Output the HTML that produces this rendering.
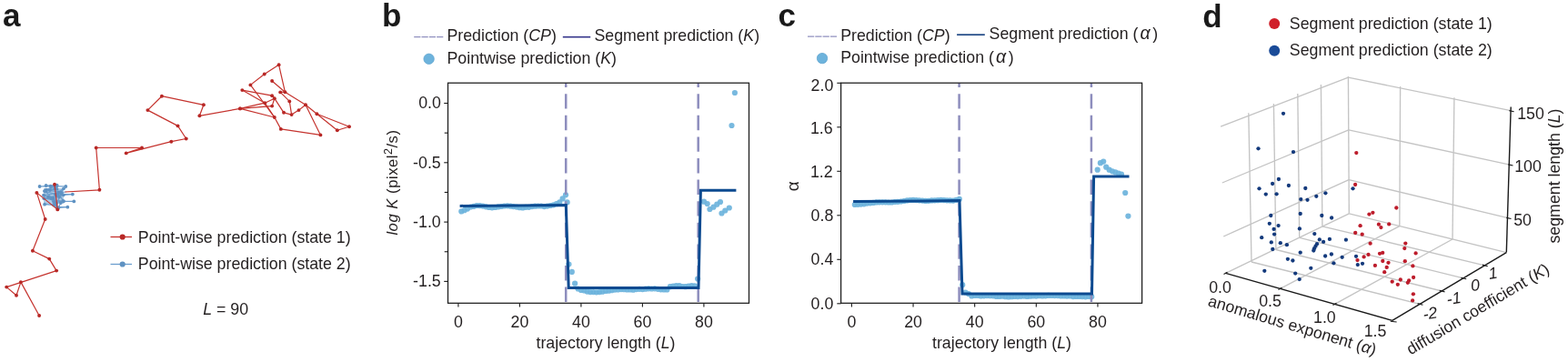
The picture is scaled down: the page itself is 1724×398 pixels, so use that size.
<!DOCTYPE html>
<html lang="en"><head><meta charset="utf-8"><title>Figure</title>
<style>
html,body{margin:0;padding:0;background:#fff;}
body{width:1724px;height:398px;overflow:hidden;}
svg{display:block;font-family:"Liberation Sans",Arial,Helvetica,sans-serif;}
text{white-space:pre;}
</style></head><body>
<svg width="1724" height="398" viewBox="0 0 1724 398">
<rect x="0" y="0" width="1724" height="398" fill="#ffffff"/>
<text x="3.00" y="29.10" font-size="35" text-anchor="start" font-weight="bold" fill="#1a1a1a">a</text>
<text x="420.00" y="29.20" font-size="35" text-anchor="start" font-weight="bold" fill="#1a1a1a">b</text>
<text x="855.40" y="29.00" font-size="35" text-anchor="start" font-weight="bold" fill="#1a1a1a">c</text>
<text x="1322.30" y="29.50" font-size="35" text-anchor="start" font-weight="bold" fill="#1a1a1a">d</text>
<rect x="48" y="207" width="22" height="17" fill="#6b9ece" opacity="0.55"/>
<polyline points="60.0,202.8 54.9,209.1 62.5,207.8 55.6,204.7 43.6,205.0 62.6,203.6 50.6,204.0 60.6,204.5 50.3,210.4 61.9,223.1 60.8,213.4 70.0,207.3 67.2,211.6 50.8,208.6 60.3,204.6 72.3,205.0 62.3,204.5 60.1,207.6 48.9,210.1 63.1,214.0 67.8,213.5 79.8,213.6 69.8,214.3 53.1,216.6 59.6,221.8 64.3,211.5 69.3,221.0 81.3,221.4 70.0,221.3 48.4,218.2 65.1,216.5 62.3,227.7 74.3,227.7 64.3,228.5 66.8,223.0 58.4,218.1 61.1,225.0 49.1,224.7 59.1,225.4 56.4,218.2 48.0,214.6 72.0,211.0" fill="none" stroke="#6b9ece" stroke-width="1.25" stroke-linejoin="round" stroke-linecap="round"/>
<circle cx="54.9" cy="209.1" r="1.9" fill="#5f92c2"/>
<circle cx="62.5" cy="207.8" r="1.9" fill="#5f92c2"/>
<circle cx="55.6" cy="204.7" r="1.9" fill="#5f92c2"/>
<circle cx="43.6" cy="205.0" r="1.9" fill="#5f92c2"/>
<circle cx="62.6" cy="203.6" r="1.9" fill="#5f92c2"/>
<circle cx="50.6" cy="204.0" r="1.9" fill="#5f92c2"/>
<circle cx="60.6" cy="204.5" r="1.9" fill="#5f92c2"/>
<circle cx="50.3" cy="210.4" r="1.9" fill="#5f92c2"/>
<circle cx="61.9" cy="223.1" r="1.9" fill="#5f92c2"/>
<circle cx="60.8" cy="213.4" r="1.9" fill="#5f92c2"/>
<circle cx="70.0" cy="207.3" r="1.9" fill="#5f92c2"/>
<circle cx="67.2" cy="211.6" r="1.9" fill="#5f92c2"/>
<circle cx="50.8" cy="208.6" r="1.9" fill="#5f92c2"/>
<circle cx="60.3" cy="204.6" r="1.9" fill="#5f92c2"/>
<circle cx="72.3" cy="205.0" r="1.9" fill="#5f92c2"/>
<circle cx="62.3" cy="204.5" r="1.9" fill="#5f92c2"/>
<circle cx="60.1" cy="207.6" r="1.9" fill="#5f92c2"/>
<circle cx="48.9" cy="210.1" r="1.9" fill="#5f92c2"/>
<circle cx="63.1" cy="214.0" r="1.9" fill="#5f92c2"/>
<circle cx="67.8" cy="213.5" r="1.9" fill="#5f92c2"/>
<circle cx="79.8" cy="213.6" r="1.9" fill="#5f92c2"/>
<circle cx="69.8" cy="214.3" r="1.9" fill="#5f92c2"/>
<circle cx="53.1" cy="216.6" r="1.9" fill="#5f92c2"/>
<circle cx="59.6" cy="221.8" r="1.9" fill="#5f92c2"/>
<circle cx="64.3" cy="211.5" r="1.9" fill="#5f92c2"/>
<circle cx="69.3" cy="221.0" r="1.9" fill="#5f92c2"/>
<circle cx="81.3" cy="221.4" r="1.9" fill="#5f92c2"/>
<circle cx="70.0" cy="221.3" r="1.9" fill="#5f92c2"/>
<circle cx="48.4" cy="218.2" r="1.9" fill="#5f92c2"/>
<circle cx="65.1" cy="216.5" r="1.9" fill="#5f92c2"/>
<circle cx="62.3" cy="227.7" r="1.9" fill="#5f92c2"/>
<circle cx="74.3" cy="227.7" r="1.9" fill="#5f92c2"/>
<circle cx="64.3" cy="228.5" r="1.9" fill="#5f92c2"/>
<circle cx="66.8" cy="223.0" r="1.9" fill="#5f92c2"/>
<circle cx="58.4" cy="218.1" r="1.9" fill="#5f92c2"/>
<circle cx="61.1" cy="225.0" r="1.9" fill="#5f92c2"/>
<circle cx="49.1" cy="224.7" r="1.9" fill="#5f92c2"/>
<circle cx="59.1" cy="225.4" r="1.9" fill="#5f92c2"/>
<circle cx="56.4" cy="218.2" r="1.9" fill="#5f92c2"/>
<circle cx="48.0" cy="214.6" r="1.9" fill="#5f92c2"/>
<polyline points="43.1,347.0 22.9,310.1 18.0,324.8 7.2,315.6 62.1,297.6 54.2,284.6 35.9,275.8 49.7,241.0 40.4,211.9 63.3,230.4 60.0,202.8" fill="none" stroke="#c5332e" stroke-width="1.2" stroke-linejoin="round" stroke-linecap="round"/>
<polyline points="72.0,211.0 109.4,208.8 105.7,162.5 156.0,162.5 138.7,168.4 188.3,155.7 204.7,152.5 195.5,138.4 162.4,121.1 177.9,105.7 223.9,115.3 219.4,127.3 264.0,119.4" fill="none" stroke="#c5332e" stroke-width="1.2" stroke-linejoin="round" stroke-linecap="round"/>
<polyline points="264.0,119.4 291.2,113.2 301.8,108.2 299.1,105.2" fill="none" stroke="#c5332e" stroke-width="1.2" stroke-linejoin="round" stroke-linecap="round"/>
<polyline points="264.0,119.4 299.1,116.6" fill="none" stroke="#c5332e" stroke-width="1.2" stroke-linejoin="round" stroke-linecap="round"/>
<polyline points="264.0,119.4 301.8,129.0" fill="none" stroke="#c5332e" stroke-width="1.2" stroke-linejoin="round" stroke-linecap="round"/>
<polyline points="266.3,99.1 299.1,105.2" fill="none" stroke="#c5332e" stroke-width="1.2" stroke-linejoin="round" stroke-linecap="round"/>
<polyline points="275.4,93.4 301.8,129.0" fill="none" stroke="#c5332e" stroke-width="1.2" stroke-linejoin="round" stroke-linecap="round"/>
<polyline points="275.4,93.4 290.7,81.5 306.6,71.3 313.4,101.2" fill="none" stroke="#c5332e" stroke-width="1.2" stroke-linejoin="round" stroke-linecap="round"/>
<polyline points="299.1,89.0 313.4,101.2 336.0,115.2 348.4,125.3 384.0,139.2 370.8,143.3" fill="none" stroke="#c5332e" stroke-width="1.2" stroke-linejoin="round" stroke-linecap="round"/>
<polyline points="370.8,143.3 348.4,125.3" fill="none" stroke="#c5332e" stroke-width="1.2" stroke-linejoin="round" stroke-linecap="round"/>
<polyline points="301.8,108.2 312.0,123.8 320.6,126.1 328.5,121.1 336.0,115.2" fill="none" stroke="#c5332e" stroke-width="1.2" stroke-linejoin="round" stroke-linecap="round"/>
<polyline points="318.3,111.4 320.6,126.1" fill="none" stroke="#c5332e" stroke-width="1.2" stroke-linejoin="round" stroke-linecap="round"/>
<polyline points="336.0,115.2 352.4,148.4 308.8,141.9 301.8,129.0" fill="none" stroke="#c5332e" stroke-width="1.2" stroke-linejoin="round" stroke-linecap="round"/>
<polyline points="266.3,99.1 291.2,113.2" fill="none" stroke="#c5332e" stroke-width="1.2" stroke-linejoin="round" stroke-linecap="round"/>
<polyline points="308.2,101.4 313.4,101.2" fill="none" stroke="#c5332e" stroke-width="1.2" stroke-linejoin="round" stroke-linecap="round"/>
<polyline points="308.2,101.4 318.3,111.4" fill="none" stroke="#c5332e" stroke-width="1.2" stroke-linejoin="round" stroke-linecap="round"/>
<polyline points="299.1,116.6 301.8,108.2" fill="none" stroke="#c5332e" stroke-width="1.2" stroke-linejoin="round" stroke-linecap="round"/>
<polyline points="291.2,113.2 301.8,129.0" fill="none" stroke="#c5332e" stroke-width="1.2" stroke-linejoin="round" stroke-linecap="round"/>
<circle cx="43.1" cy="347.0" r="1.95" fill="#b82826"/>
<circle cx="22.9" cy="310.1" r="1.95" fill="#b82826"/>
<circle cx="18.0" cy="324.8" r="1.95" fill="#b82826"/>
<circle cx="7.2" cy="315.6" r="1.95" fill="#b82826"/>
<circle cx="62.1" cy="297.6" r="1.95" fill="#b82826"/>
<circle cx="54.2" cy="284.6" r="1.95" fill="#b82826"/>
<circle cx="35.9" cy="275.8" r="1.95" fill="#b82826"/>
<circle cx="49.7" cy="241.0" r="1.95" fill="#b82826"/>
<circle cx="40.4" cy="211.9" r="1.95" fill="#b82826"/>
<circle cx="63.3" cy="230.4" r="1.95" fill="#b82826"/>
<circle cx="60.0" cy="202.8" r="1.95" fill="#b82826"/>
<circle cx="109.4" cy="208.8" r="1.95" fill="#b82826"/>
<circle cx="105.7" cy="162.5" r="1.95" fill="#b82826"/>
<circle cx="156.0" cy="162.5" r="1.95" fill="#b82826"/>
<circle cx="138.7" cy="168.4" r="1.95" fill="#b82826"/>
<circle cx="188.3" cy="155.7" r="1.95" fill="#b82826"/>
<circle cx="204.7" cy="152.5" r="1.95" fill="#b82826"/>
<circle cx="195.5" cy="138.4" r="1.95" fill="#b82826"/>
<circle cx="162.4" cy="121.1" r="1.95" fill="#b82826"/>
<circle cx="177.9" cy="105.7" r="1.95" fill="#b82826"/>
<circle cx="223.9" cy="115.3" r="1.95" fill="#b82826"/>
<circle cx="219.4" cy="127.3" r="1.95" fill="#b82826"/>
<circle cx="264.0" cy="119.4" r="1.95" fill="#b82826"/>
<circle cx="264.0" cy="119.4" r="1.95" fill="#b82826"/>
<circle cx="291.2" cy="113.2" r="1.95" fill="#b82826"/>
<circle cx="299.1" cy="105.2" r="1.95" fill="#b82826"/>
<circle cx="266.3" cy="99.1" r="1.95" fill="#b82826"/>
<circle cx="301.8" cy="108.2" r="1.95" fill="#b82826"/>
<circle cx="299.1" cy="116.6" r="1.95" fill="#b82826"/>
<circle cx="275.4" cy="93.4" r="1.95" fill="#b82826"/>
<circle cx="290.7" cy="81.5" r="1.95" fill="#b82826"/>
<circle cx="306.6" cy="71.3" r="1.95" fill="#b82826"/>
<circle cx="313.4" cy="101.2" r="1.95" fill="#b82826"/>
<circle cx="308.2" cy="101.4" r="1.95" fill="#b82826"/>
<circle cx="299.1" cy="89.0" r="1.95" fill="#b82826"/>
<circle cx="318.3" cy="111.4" r="1.95" fill="#b82826"/>
<circle cx="312.0" cy="123.8" r="1.95" fill="#b82826"/>
<circle cx="320.6" cy="126.1" r="1.95" fill="#b82826"/>
<circle cx="328.5" cy="121.1" r="1.95" fill="#b82826"/>
<circle cx="336.0" cy="115.2" r="1.95" fill="#b82826"/>
<circle cx="348.4" cy="125.3" r="1.95" fill="#b82826"/>
<circle cx="384.0" cy="139.2" r="1.95" fill="#b82826"/>
<circle cx="370.8" cy="143.3" r="1.95" fill="#b82826"/>
<circle cx="352.4" cy="148.4" r="1.95" fill="#b82826"/>
<circle cx="308.8" cy="141.9" r="1.95" fill="#b82826"/>
<circle cx="301.8" cy="129.0" r="1.95" fill="#b82826"/>
<line x1="121.5" y1="260.5" x2="145" y2="260.5" stroke="#c5332e" stroke-width="1.3"/>
<circle cx="134.7" cy="260.5" r="3.1" fill="#b82826"/>
<line x1="121.5" y1="290.5" x2="145" y2="290.5" stroke="#6b9ece" stroke-width="1.3"/>
<circle cx="134.7" cy="290.5" r="3.1" fill="#5f92c2"/>
<text x="151.80" y="266.80" font-size="17.75" text-anchor="start" font-weight="normal" fill="#231f20">Point-wise prediction (state 1)</text>
<text x="151.80" y="296.10" font-size="17.75" text-anchor="start" font-weight="normal" fill="#231f20">Point-wise prediction (state 2)</text>
<text x="223.20" y="345.70" font-size="17.75" text-anchor="start" font-weight="normal" fill="#231f20"><tspan font-style="italic">L</tspan> = 90</text>
<g fill="#6db3dc" fill-opacity="0.92">
<circle cx="507.3" cy="232.4" r="3.1"/>
<circle cx="510.6" cy="231.2" r="3.1"/>
<circle cx="514.0" cy="229.6" r="3.1"/>
<circle cx="517.4" cy="227.5" r="3.1"/>
<circle cx="520.8" cy="226.9" r="3.1"/>
<circle cx="524.1" cy="226.1" r="3.1"/>
<circle cx="527.5" cy="226.2" r="3.1"/>
<circle cx="530.9" cy="226.6" r="3.1"/>
<circle cx="534.3" cy="227.3" r="3.1"/>
<circle cx="537.6" cy="228.0" r="3.1"/>
<circle cx="541.0" cy="228.3" r="3.1"/>
<circle cx="544.4" cy="228.0" r="3.1"/>
<circle cx="547.8" cy="227.4" r="3.1"/>
<circle cx="551.1" cy="227.0" r="3.1"/>
<circle cx="554.5" cy="226.5" r="3.1"/>
<circle cx="557.9" cy="226.3" r="3.1"/>
<circle cx="561.3" cy="226.7" r="3.1"/>
<circle cx="564.6" cy="227.1" r="3.1"/>
<circle cx="568.0" cy="227.6" r="3.1"/>
<circle cx="571.4" cy="228.2" r="3.1"/>
<circle cx="574.8" cy="228.4" r="3.1"/>
<circle cx="578.1" cy="227.8" r="3.1"/>
<circle cx="581.5" cy="227.8" r="3.1"/>
<circle cx="584.9" cy="227.1" r="3.1"/>
<circle cx="588.3" cy="226.7" r="3.1"/>
<circle cx="591.6" cy="226.5" r="3.1"/>
<circle cx="595.0" cy="226.5" r="3.1"/>
<circle cx="598.4" cy="227.1" r="3.1"/>
<circle cx="601.8" cy="226.6" r="3.1"/>
<circle cx="605.1" cy="226.0" r="3.1"/>
<circle cx="608.5" cy="225.3" r="3.1"/>
<circle cx="611.9" cy="224.2" r="3.1"/>
<circle cx="615.3" cy="222.4" r="3.1"/>
<circle cx="618.6" cy="218.4" r="3.1"/>
<circle cx="622.0" cy="214.3" r="3.1"/>
<circle cx="623.6" cy="222.4" r="3.1"/>
<circle cx="625.4" cy="290.5" r="3.1"/>
<circle cx="628.8" cy="298.9" r="3.1"/>
<circle cx="632.1" cy="311.7" r="3.1"/>
<circle cx="635.5" cy="317.5" r="3.1"/>
<circle cx="638.9" cy="319.0" r="3.1"/>
<circle cx="642.3" cy="319.5" r="3.1"/>
<circle cx="645.6" cy="320.6" r="3.1"/>
<circle cx="649.0" cy="321.1" r="3.1"/>
<circle cx="652.4" cy="321.1" r="3.1"/>
<circle cx="655.8" cy="321.3" r="3.1"/>
<circle cx="659.1" cy="321.1" r="3.1"/>
<circle cx="662.5" cy="320.7" r="3.1"/>
<circle cx="665.9" cy="319.9" r="3.1"/>
<circle cx="669.3" cy="319.7" r="3.1"/>
<circle cx="672.6" cy="319.2" r="3.1"/>
<circle cx="676.0" cy="318.6" r="3.1"/>
<circle cx="679.4" cy="318.4" r="3.1"/>
<circle cx="682.8" cy="318.1" r="3.1"/>
<circle cx="686.1" cy="318.2" r="3.1"/>
<circle cx="689.5" cy="318.4" r="3.1"/>
<circle cx="692.9" cy="318.4" r="3.1"/>
<circle cx="696.3" cy="318.7" r="3.1"/>
<circle cx="699.6" cy="318.1" r="3.1"/>
<circle cx="703.0" cy="317.8" r="3.1"/>
<circle cx="706.4" cy="318.1" r="3.1"/>
<circle cx="709.8" cy="317.7" r="3.1"/>
<circle cx="713.1" cy="317.3" r="3.1"/>
<circle cx="716.5" cy="317.5" r="3.1"/>
<circle cx="719.9" cy="317.3" r="3.1"/>
<circle cx="723.3" cy="317.8" r="3.1"/>
<circle cx="726.6" cy="318.3" r="3.1"/>
<circle cx="730.0" cy="318.5" r="3.1"/>
<circle cx="733.4" cy="318.5" r="3.1"/>
<circle cx="736.8" cy="315.2" r="3.1"/>
<circle cx="740.1" cy="314.7" r="3.1"/>
<circle cx="743.5" cy="314.0" r="3.1"/>
<circle cx="746.9" cy="314.2" r="3.1"/>
<circle cx="750.3" cy="315.0" r="3.1"/>
<circle cx="753.6" cy="315.2" r="3.1"/>
<circle cx="757.0" cy="314.5" r="3.1"/>
<circle cx="760.4" cy="314.0" r="3.1"/>
<circle cx="763.8" cy="314.3" r="3.1"/>
<circle cx="767.1" cy="306.6" r="3.1"/>
<circle cx="774.0" cy="221.7" r="3.1"/>
<circle cx="777.7" cy="224.0" r="3.1"/>
<circle cx="780.4" cy="230.0" r="3.1"/>
<circle cx="784.5" cy="227.7" r="3.1"/>
<circle cx="788.3" cy="224.7" r="3.1"/>
<circle cx="792.0" cy="222.0" r="3.1"/>
<circle cx="793.5" cy="234.5" r="3.1"/>
<circle cx="797.3" cy="231.5" r="3.1"/>
<circle cx="801.8" cy="228.5" r="3.1"/>
<circle cx="804.5" cy="138.0" r="3.1"/>
<circle cx="807.9" cy="102.0" r="3.1"/>
</g>
<line x1="622.20" y1="91.2" x2="622.20" y2="333.3" stroke="#8d8dbd" stroke-width="2.5" stroke-dasharray="16.4 7.2" stroke-dashoffset="11.6"/>
<line x1="767.70" y1="91.2" x2="767.70" y2="333.3" stroke="#8d8dbd" stroke-width="2.5" stroke-dasharray="16.4 7.2" stroke-dashoffset="11.6"/>
<polyline points="505.6,226.4 622.3,225.5 625.2,316.4 768.0,316.4 770.4,209.2 809.4,209.2" fill="none" stroke="#0c4a90" stroke-width="3.0" stroke-linejoin="miter"/>
<rect x="492.5" y="91.2" width="331.00" height="242.10" fill="none" stroke="#1a1a1a" stroke-width="1.25"/>
<line x1="503.90" y1="333.3" x2="503.90" y2="337.5" stroke="#1a1a1a" stroke-width="1.1"/>
<text x="503.90" y="359.60" font-size="17.75" text-anchor="middle" font-weight="normal" fill="#231f20">0</text>
<line x1="571.40" y1="333.3" x2="571.40" y2="337.5" stroke="#1a1a1a" stroke-width="1.1"/>
<text x="571.40" y="359.60" font-size="17.75" text-anchor="middle" font-weight="normal" fill="#231f20">20</text>
<line x1="638.90" y1="333.3" x2="638.90" y2="337.5" stroke="#1a1a1a" stroke-width="1.1"/>
<text x="638.90" y="359.60" font-size="17.75" text-anchor="middle" font-weight="normal" fill="#231f20">40</text>
<line x1="706.40" y1="333.3" x2="706.40" y2="337.5" stroke="#1a1a1a" stroke-width="1.1"/>
<text x="706.40" y="359.60" font-size="17.75" text-anchor="middle" font-weight="normal" fill="#231f20">60</text>
<line x1="773.90" y1="333.3" x2="773.90" y2="337.5" stroke="#1a1a1a" stroke-width="1.1"/>
<text x="773.90" y="359.60" font-size="17.75" text-anchor="middle" font-weight="normal" fill="#231f20">80</text>
<line x1="492.5" y1="113.50" x2="488.2" y2="113.50" stroke="#1a1a1a" stroke-width="1.1"/>
<text x="484.90" y="119.35" font-size="17.75" text-anchor="end" font-weight="normal" fill="#231f20">0.0</text>
<line x1="492.5" y1="178.80" x2="488.2" y2="178.80" stroke="#1a1a1a" stroke-width="1.1"/>
<text x="484.70" y="184.65" font-size="17.75" text-anchor="end" font-weight="normal" fill="#231f20">-0.5</text>
<line x1="492.5" y1="244.10" x2="488.2" y2="244.10" stroke="#1a1a1a" stroke-width="1.1"/>
<text x="484.70" y="249.95" font-size="17.75" text-anchor="end" font-weight="normal" fill="#231f20">-1.0</text>
<line x1="492.5" y1="309.40" x2="488.2" y2="309.40" stroke="#1a1a1a" stroke-width="1.1"/>
<text x="484.70" y="315.25" font-size="17.75" text-anchor="end" font-weight="normal" fill="#231f20">-1.5</text>
<line x1="492.5" y1="146.15" x2="488.7" y2="146.15" stroke="#1a1a1a" stroke-width="1.1"/>
<line x1="492.5" y1="211.45" x2="488.7" y2="211.45" stroke="#1a1a1a" stroke-width="1.1"/>
<line x1="492.5" y1="276.75" x2="488.7" y2="276.75" stroke="#1a1a1a" stroke-width="1.1"/>
<text x="666.00" y="383.10" font-size="17.75" text-anchor="middle" font-weight="normal" fill="#231f20">trajectory length (<tspan font-style="italic">L</tspan>)</text>
<text x="437.50" y="258.60" font-size="16.7" text-anchor="start" font-weight="normal" fill="#231f20" transform="rotate(-90 437.50 258.60)" letter-spacing="0.5"><tspan font-style="italic">log K</tspan> (pixel<tspan font-size="12.5" dy="-6.2">2</tspan><tspan dy="6.2">/s)</tspan></text>
<line x1="455.2" y1="40.7" x2="487.4" y2="40.7" stroke="#9090bf" stroke-width="1.2" stroke-dasharray="7.2 1.1"/>
<text x="491.50" y="45.10" font-size="17.75" text-anchor="start" font-weight="normal" fill="#231f20">Prediction (<tspan font-style="italic">CP</tspan>)</text>
<line x1="618.8" y1="40.7" x2="649.2" y2="40.7" stroke="#34348a" stroke-width="1.6"/>
<text x="653.50" y="45.10" font-size="17.75" text-anchor="start" font-weight="normal" fill="#231f20">Segment prediction (<tspan font-style="italic">K</tspan>)</text>
<circle cx="471.6" cy="64.8" r="5.7" fill="#6db3dc" stroke="#62a6d0" stroke-width="0.8"/>
<text x="491.50" y="69.60" font-size="17.75" text-anchor="start" font-weight="normal" fill="#231f20">Pointwise prediction (<tspan font-style="italic">K</tspan>)</text>
<g fill="#6db3dc" fill-opacity="0.92">
<circle cx="939.8" cy="225.0" r="3.1"/>
<circle cx="943.2" cy="224.8" r="3.1"/>
<circle cx="946.5" cy="224.6" r="3.1"/>
<circle cx="949.9" cy="224.3" r="3.1"/>
<circle cx="953.3" cy="223.6" r="3.1"/>
<circle cx="956.7" cy="223.3" r="3.1"/>
<circle cx="960.1" cy="222.9" r="3.1"/>
<circle cx="963.5" cy="222.4" r="3.1"/>
<circle cx="966.8" cy="222.3" r="3.1"/>
<circle cx="970.2" cy="222.3" r="3.1"/>
<circle cx="973.6" cy="222.3" r="3.1"/>
<circle cx="977.0" cy="222.5" r="3.1"/>
<circle cx="980.4" cy="222.5" r="3.1"/>
<circle cx="983.7" cy="222.0" r="3.1"/>
<circle cx="987.1" cy="221.8" r="3.1"/>
<circle cx="990.5" cy="221.5" r="3.1"/>
<circle cx="993.9" cy="221.0" r="3.1"/>
<circle cx="997.3" cy="220.4" r="3.1"/>
<circle cx="1000.7" cy="220.0" r="3.1"/>
<circle cx="1004.0" cy="219.9" r="3.1"/>
<circle cx="1007.4" cy="220.1" r="3.1"/>
<circle cx="1010.8" cy="220.3" r="3.1"/>
<circle cx="1014.2" cy="220.6" r="3.1"/>
<circle cx="1017.6" cy="220.9" r="3.1"/>
<circle cx="1020.9" cy="220.8" r="3.1"/>
<circle cx="1024.3" cy="220.4" r="3.1"/>
<circle cx="1027.7" cy="220.3" r="3.1"/>
<circle cx="1031.1" cy="220.2" r="3.1"/>
<circle cx="1034.5" cy="219.8" r="3.1"/>
<circle cx="1037.9" cy="220.1" r="3.1"/>
<circle cx="1041.2" cy="220.3" r="3.1"/>
<circle cx="1044.6" cy="220.4" r="3.1"/>
<circle cx="1048.0" cy="220.6" r="3.1"/>
<circle cx="1051.4" cy="219.8" r="3.1"/>
<circle cx="1054.8" cy="218.9" r="3.1"/>
<circle cx="1058.2" cy="313.2" r="3.1"/>
<circle cx="1061.5" cy="321.5" r="3.1"/>
<circle cx="1064.9" cy="323.0" r="3.1"/>
<circle cx="1068.3" cy="325.4" r="3.1"/>
<circle cx="1071.7" cy="325.0" r="3.1"/>
<circle cx="1075.1" cy="325.0" r="3.1"/>
<circle cx="1078.4" cy="325.4" r="3.1"/>
<circle cx="1081.8" cy="325.3" r="3.1"/>
<circle cx="1085.2" cy="325.1" r="3.1"/>
<circle cx="1088.6" cy="325.2" r="3.1"/>
<circle cx="1092.0" cy="325.3" r="3.1"/>
<circle cx="1095.4" cy="325.9" r="3.1"/>
<circle cx="1098.7" cy="326.0" r="3.1"/>
<circle cx="1102.1" cy="325.7" r="3.1"/>
<circle cx="1105.5" cy="326.2" r="3.1"/>
<circle cx="1108.9" cy="326.4" r="3.1"/>
<circle cx="1112.3" cy="326.2" r="3.1"/>
<circle cx="1115.6" cy="326.0" r="3.1"/>
<circle cx="1119.0" cy="326.1" r="3.1"/>
<circle cx="1122.4" cy="325.8" r="3.1"/>
<circle cx="1125.8" cy="325.6" r="3.1"/>
<circle cx="1129.2" cy="326.0" r="3.1"/>
<circle cx="1132.6" cy="325.7" r="3.1"/>
<circle cx="1135.9" cy="325.5" r="3.1"/>
<circle cx="1139.3" cy="325.6" r="3.1"/>
<circle cx="1142.7" cy="325.2" r="3.1"/>
<circle cx="1146.1" cy="325.4" r="3.1"/>
<circle cx="1149.5" cy="325.3" r="3.1"/>
<circle cx="1152.8" cy="324.9" r="3.1"/>
<circle cx="1156.2" cy="325.0" r="3.1"/>
<circle cx="1159.6" cy="325.1" r="3.1"/>
<circle cx="1163.0" cy="325.1" r="3.1"/>
<circle cx="1166.4" cy="325.4" r="3.1"/>
<circle cx="1169.8" cy="325.4" r="3.1"/>
<circle cx="1173.1" cy="325.6" r="3.1"/>
<circle cx="1176.5" cy="325.5" r="3.1"/>
<circle cx="1179.9" cy="326.1" r="3.1"/>
<circle cx="1183.3" cy="325.9" r="3.1"/>
<circle cx="1186.7" cy="326.0" r="3.1"/>
<circle cx="1190.0" cy="326.1" r="3.1"/>
<circle cx="1193.4" cy="326.3" r="3.1"/>
<circle cx="1196.8" cy="326.0" r="3.1"/>
<circle cx="1200.2" cy="326.2" r="3.1"/>
<circle cx="1206.7" cy="186.7" r="3.1"/>
<circle cx="1209.9" cy="179.2" r="3.1"/>
<circle cx="1213.2" cy="177.6" r="3.1"/>
<circle cx="1216.2" cy="183.7" r="3.1"/>
<circle cx="1219.6" cy="186.7" r="3.1"/>
<circle cx="1223.0" cy="188.3" r="3.1"/>
<circle cx="1226.4" cy="189.4" r="3.1"/>
<circle cx="1229.8" cy="190.5" r="3.1"/>
<circle cx="1233.0" cy="191.7" r="3.1"/>
<circle cx="1237.2" cy="212.0" r="3.1"/>
<circle cx="1240.4" cy="237.6" r="3.1"/>
</g>
<line x1="1054.60" y1="91.2" x2="1054.60" y2="333.3" stroke="#8d8dbd" stroke-width="2.5" stroke-dasharray="16.4 7.2" stroke-dashoffset="11.6"/>
<line x1="1199.90" y1="91.2" x2="1199.90" y2="333.3" stroke="#8d8dbd" stroke-width="2.5" stroke-dasharray="16.4 7.2" stroke-dashoffset="11.6"/>
<polyline points="938.1,221.6 1055.0,220.6 1058.0,322.9 1200.5,322.9 1202.6,193.9 1241.5,193.9" fill="none" stroke="#0c4a90" stroke-width="3.0" stroke-linejoin="miter"/>
<rect x="924.6" y="91.2" width="331.00" height="242.10" fill="none" stroke="#1a1a1a" stroke-width="1.25"/>
<line x1="936.40" y1="333.3" x2="936.40" y2="337.5" stroke="#1a1a1a" stroke-width="1.1"/>
<text x="936.40" y="359.60" font-size="17.75" text-anchor="middle" font-weight="normal" fill="#231f20">0</text>
<line x1="1004.04" y1="333.3" x2="1004.04" y2="337.5" stroke="#1a1a1a" stroke-width="1.1"/>
<text x="1004.04" y="359.60" font-size="17.75" text-anchor="middle" font-weight="normal" fill="#231f20">20</text>
<line x1="1071.68" y1="333.3" x2="1071.68" y2="337.5" stroke="#1a1a1a" stroke-width="1.1"/>
<text x="1071.68" y="359.60" font-size="17.75" text-anchor="middle" font-weight="normal" fill="#231f20">40</text>
<line x1="1139.32" y1="333.3" x2="1139.32" y2="337.5" stroke="#1a1a1a" stroke-width="1.1"/>
<text x="1139.32" y="359.60" font-size="17.75" text-anchor="middle" font-weight="normal" fill="#231f20">60</text>
<line x1="1206.96" y1="333.3" x2="1206.96" y2="337.5" stroke="#1a1a1a" stroke-width="1.1"/>
<text x="1206.96" y="359.60" font-size="17.75" text-anchor="middle" font-weight="normal" fill="#231f20">80</text>
<line x1="924.6" y1="91.30" x2="920.3000000000001" y2="91.30" stroke="#1a1a1a" stroke-width="1.1"/>
<text x="916.30" y="99.55" font-size="17.75" text-anchor="end" font-weight="normal" fill="#231f20">2.0</text>
<line x1="924.6" y1="139.80" x2="920.3000000000001" y2="139.80" stroke="#1a1a1a" stroke-width="1.1"/>
<text x="915.60" y="147.45" font-size="17.75" text-anchor="end" font-weight="normal" fill="#231f20">1.6</text>
<line x1="924.6" y1="188.30" x2="920.3000000000001" y2="188.30" stroke="#1a1a1a" stroke-width="1.1"/>
<text x="915.60" y="195.45" font-size="17.75" text-anchor="end" font-weight="normal" fill="#231f20">1.2</text>
<line x1="924.6" y1="236.80" x2="920.3000000000001" y2="236.80" stroke="#1a1a1a" stroke-width="1.1"/>
<text x="916.30" y="243.25" font-size="17.75" text-anchor="end" font-weight="normal" fill="#231f20">0.8</text>
<line x1="924.6" y1="285.30" x2="920.3000000000001" y2="285.30" stroke="#1a1a1a" stroke-width="1.1"/>
<text x="916.30" y="291.25" font-size="17.75" text-anchor="end" font-weight="normal" fill="#231f20">0.4</text>
<line x1="924.6" y1="333.80" x2="920.3000000000001" y2="333.80" stroke="#1a1a1a" stroke-width="1.1"/>
<text x="916.30" y="339.65" font-size="17.75" text-anchor="end" font-weight="normal" fill="#231f20">0.0</text>
<text x="1101.50" y="382.80" font-size="17.75" text-anchor="middle" font-weight="normal" fill="#231f20">trajectory length (<tspan font-style="italic">L</tspan>)</text>
<text x="878.30" y="210.20" font-size="19" text-anchor="start" font-weight="normal" fill="#231f20" transform="rotate(-90 878.30 210.20)">α</text>
<line x1="888" y1="40.1" x2="920" y2="40.1" stroke="#9090bf" stroke-width="1.2" stroke-dasharray="7.2 1.1"/>
<text x="924.20" y="44.70" font-size="17.75" text-anchor="start" font-weight="normal" fill="#231f20">Prediction (<tspan font-style="italic">CP</tspan>)</text>
<line x1="1052.1" y1="38.2" x2="1082.8" y2="38.2" stroke="#1d4684" stroke-width="1.7"/>
<text x="1087.60" y="42.60" font-size="17.75" text-anchor="start" font-weight="normal" fill="#231f20">Segment prediction (<tspan dx="2.2" font-style="italic" font-size="19.5">α</tspan><tspan dx="2.6">)</tspan></text>
<circle cx="904" cy="64.1" r="5.7" fill="#6db3dc" stroke="#62a6d0" stroke-width="0.8"/>
<text x="924.20" y="69.30" font-size="17.75" text-anchor="start" font-weight="normal" fill="#231f20">Pointwise prediction (<tspan dx="2.2" font-style="italic" font-size="19.5">α</tspan><tspan dx="2.6">)</tspan></text>
<line x1="1342.1" y1="139.1" x2="1482.4" y2="85.1" stroke="#c4c4c4" stroke-width="1.35"/>
<line x1="1482.4" y1="85.1" x2="1661.0" y2="121.7" stroke="#c4c4c4" stroke-width="1.35"/>
<line x1="1343.8" y1="201.0" x2="1482.8" y2="142.8" stroke="#c4c4c4" stroke-width="1.35"/>
<line x1="1482.8" y1="142.8" x2="1659.9" y2="181.2" stroke="#c4c4c4" stroke-width="1.35"/>
<line x1="1345.2" y1="260.0" x2="1483.1" y2="197.7" stroke="#c4c4c4" stroke-width="1.35"/>
<line x1="1483.1" y1="197.7" x2="1657.9" y2="239.7" stroke="#c4c4c4" stroke-width="1.35"/>
<line x1="1372.8" y1="124.3" x2="1376.0" y2="288.0" stroke="#c4c4c4" stroke-width="1.35"/>
<line x1="1400.4" y1="114.0" x2="1402.9" y2="274.5" stroke="#c4c4c4" stroke-width="1.35"/>
<line x1="1426.8" y1="103.1" x2="1428.7" y2="261.3" stroke="#c4c4c4" stroke-width="1.35"/>
<line x1="1452.4" y1="93.1" x2="1453.9" y2="248.8" stroke="#c4c4c4" stroke-width="1.35"/>
<line x1="1482.4" y1="84.0" x2="1483.3" y2="234.8" stroke="#c4c4c4" stroke-width="1.35"/>
<line x1="1539.6" y1="95.1" x2="1538.8" y2="248.6" stroke="#c4c4c4" stroke-width="1.35"/>
<line x1="1598.9" y1="107.2" x2="1597.0" y2="263.0" stroke="#c4c4c4" stroke-width="1.35"/>
<line x1="1347.6" y1="300.3" x2="1483.3" y2="234.8" stroke="#c4c4c4" stroke-width="1.35"/>
<line x1="1483.3" y1="234.8" x2="1656.3" y2="277.6" stroke="#c4c4c4" stroke-width="1.35"/>
<line x1="1407.6" y1="317.4" x2="1538.8" y2="248.6" stroke="#c4c4c4" stroke-width="1.35"/>
<line x1="1467.6" y1="334.4" x2="1597.0" y2="263.0" stroke="#c4c4c4" stroke-width="1.35"/>
<line x1="1561.1" y1="334.3" x2="1376.0" y2="288.0" stroke="#c4c4c4" stroke-width="1.35"/>
<line x1="1585.2" y1="320.0" x2="1402.9" y2="274.5" stroke="#c4c4c4" stroke-width="1.35"/>
<line x1="1608.9" y1="305.9" x2="1428.7" y2="261.3" stroke="#c4c4c4" stroke-width="1.35"/>
<line x1="1632.4" y1="291.8" x2="1453.9" y2="248.8" stroke="#c4c4c4" stroke-width="1.35"/>
<line x1="1347.6" y1="300.3" x2="1530.8" y2="352.4" stroke="#1a1a1a" stroke-width="1.4"/>
<line x1="1530.8" y1="352.4" x2="1656.3" y2="277.6" stroke="#1a1a1a" stroke-width="1.4"/>
<line x1="1656.3" y1="277.6" x2="1661.2" y2="117.6" stroke="#1a1a1a" stroke-width="1.4"/>
<line x1="1345.5" y1="301.5" x2="1349.5" y2="299.2" stroke="#1a1a1a" stroke-width="1.1"/>
<line x1="1405.5" y1="318.6" x2="1409.5" y2="316.3" stroke="#1a1a1a" stroke-width="1.1"/>
<line x1="1465.5" y1="335.6" x2="1469.5" y2="333.3" stroke="#1a1a1a" stroke-width="1.1"/>
<line x1="1528.8" y1="353.3" x2="1535.6" y2="354.0" stroke="#1a1a1a" stroke-width="1.1"/>
<line x1="1558.6" y1="333.6" x2="1564.4" y2="335.2" stroke="#1a1a1a" stroke-width="1.1"/>
<line x1="1582.7" y1="319.3" x2="1588.5" y2="320.9" stroke="#1a1a1a" stroke-width="1.1"/>
<line x1="1606.4" y1="305.2" x2="1612.2" y2="306.8" stroke="#1a1a1a" stroke-width="1.1"/>
<line x1="1629.9" y1="291.1" x2="1635.7" y2="292.7" stroke="#1a1a1a" stroke-width="1.1"/>
<line x1="1659.4" y1="121.6" x2="1664.6" y2="122.7" stroke="#1a1a1a" stroke-width="1.1"/>
<line x1="1658.3" y1="180.9" x2="1663.5" y2="182.0" stroke="#1a1a1a" stroke-width="1.1"/>
<line x1="1656.3" y1="239.4" x2="1661.5" y2="240.5" stroke="#1a1a1a" stroke-width="1.1"/>
<text x="1341.50" y="322.30" font-size="17.75" text-anchor="middle" font-weight="normal" fill="#231f20">0.0</text>
<text x="1396.50" y="337.40" font-size="17.75" text-anchor="middle" font-weight="normal" fill="#231f20">0.5</text>
<text x="1456.40" y="354.50" font-size="17.75" text-anchor="middle" font-weight="normal" fill="#231f20">1.0</text>
<text x="1512.00" y="370.30" font-size="17.75" text-anchor="middle" font-weight="normal" fill="#231f20">1.5</text>
<text x="1572.3" y="344.3" font-size="17.75" text-anchor="middle" fill="#231f20" font-style="italic" transform="rotate(-9 1572.3 344.3)" dy="6.3">-2</text>
<text x="1598.4" y="327.8" font-size="17.75" text-anchor="middle" fill="#231f20" font-style="italic" transform="rotate(-9 1598.4 327.8)" dy="6.3">-1</text>
<text x="1621.8" y="313.2" font-size="17.75" text-anchor="middle" fill="#231f20" font-style="italic" transform="rotate(-9 1621.8 313.2)" dy="6.3">0</text>
<text x="1641.3" y="300.1" font-size="17.75" text-anchor="middle" fill="#231f20" font-style="italic" transform="rotate(-9 1641.3 300.1)" dy="6.3">1</text>
<text x="1668.20" y="131.20" font-size="17.75" text-anchor="start" font-weight="normal" fill="#231f20">150</text>
<text x="1665.20" y="189.40" font-size="17.75" text-anchor="start" font-weight="normal" fill="#231f20">100</text>
<text x="1664.20" y="247.80" font-size="17.75" text-anchor="start" font-weight="normal" fill="#231f20">50</text>
<text x="1715.40" y="267.50" font-size="17.75" text-anchor="start" font-weight="normal" fill="#231f20" transform="rotate(-90 1715.40 267.50)">segment length (<tspan font-style="italic">L</tspan>)</text>
<text x="1550.90" y="390.60" font-size="17.75" text-anchor="start" font-weight="normal" fill="#231f20" transform="rotate(-30.7 1550.90 390.60)">diffusion coefficient (<tspan font-style="italic">K</tspan>)</text>
<text x="1327.30" y="336.00" font-size="17.75" text-anchor="start" font-weight="normal" fill="#231f20" transform="rotate(16.5 1327.30 336.00)">anomalous exponent (<tspan font-style="italic">α</tspan>)</text>
<circle cx="1401.2" cy="25.9" r="6" fill="#d0202a"/>
<circle cx="1401.2" cy="55.8" r="6" fill="#1a4b98"/>
<text x="1417.80" y="32.30" font-size="17.75" text-anchor="start" font-weight="normal" fill="#231f20">Segment prediction (state 1)</text>
<text x="1417.80" y="61.40" font-size="17.75" text-anchor="start" font-weight="normal" fill="#231f20">Segment prediction (state 2)</text>
<circle cx="1411.0" cy="124.8" r="2.15" fill="#143a7c"/>
<circle cx="1383.5" cy="163.3" r="2.15" fill="#143a7c"/>
<circle cx="1422.0" cy="167.1" r="2.15" fill="#143a7c"/>
<circle cx="1405.9" cy="197.0" r="2.15" fill="#143a7c"/>
<circle cx="1399.1" cy="202.0" r="2.15" fill="#143a7c"/>
<circle cx="1416.9" cy="204.0" r="2.15" fill="#143a7c"/>
<circle cx="1384.5" cy="207.3" r="2.15" fill="#143a7c"/>
<circle cx="1435.3" cy="207.0" r="2.15" fill="#143a7c"/>
<circle cx="1391.8" cy="213.6" r="2.15" fill="#143a7c"/>
<circle cx="1403.6" cy="213.3" r="2.15" fill="#143a7c"/>
<circle cx="1457.4" cy="212.3" r="2.15" fill="#143a7c"/>
<circle cx="1447.3" cy="215.8" r="2.15" fill="#143a7c"/>
<circle cx="1430.3" cy="219.1" r="2.15" fill="#143a7c"/>
<circle cx="1437.5" cy="219.8" r="2.15" fill="#143a7c"/>
<circle cx="1487.5" cy="207.3" r="2.15" fill="#143a7c"/>
<circle cx="1397.3" cy="237.0" r="2.15" fill="#143a7c"/>
<circle cx="1429.7" cy="235.0" r="2.15" fill="#143a7c"/>
<circle cx="1453.3" cy="237.0" r="2.15" fill="#143a7c"/>
<circle cx="1464.1" cy="239.5" r="2.15" fill="#143a7c"/>
<circle cx="1395.8" cy="245.8" r="2.15" fill="#143a7c"/>
<circle cx="1405.6" cy="248.1" r="2.15" fill="#143a7c"/>
<circle cx="1400.6" cy="251.9" r="2.15" fill="#143a7c"/>
<circle cx="1428.9" cy="251.4" r="2.15" fill="#143a7c"/>
<circle cx="1401.1" cy="257.6" r="2.15" fill="#143a7c"/>
<circle cx="1387.2" cy="261.2" r="2.15" fill="#143a7c"/>
<circle cx="1445.3" cy="257.1" r="2.15" fill="#143a7c"/>
<circle cx="1397.8" cy="266.4" r="2.15" fill="#143a7c"/>
<circle cx="1407.8" cy="267.2" r="2.15" fill="#143a7c"/>
<circle cx="1414.9" cy="269.2" r="2.15" fill="#143a7c"/>
<circle cx="1399.3" cy="274.0" r="2.15" fill="#143a7c"/>
<circle cx="1450.8" cy="263.4" r="2.15" fill="#143a7c"/>
<circle cx="1455.1" cy="265.9" r="2.15" fill="#143a7c"/>
<circle cx="1461.9" cy="262.9" r="2.15" fill="#143a7c"/>
<circle cx="1479.9" cy="263.7" r="2.15" fill="#143a7c"/>
<circle cx="1448.0" cy="268.2" r="2.15" fill="#143a7c"/>
<circle cx="1446.5" cy="270.7" r="2.15" fill="#143a7c"/>
<circle cx="1445.0" cy="273.2" r="2.15" fill="#143a7c"/>
<circle cx="1444.3" cy="275.5" r="2.15" fill="#143a7c"/>
<circle cx="1429.7" cy="277.7" r="2.15" fill="#143a7c"/>
<circle cx="1457.1" cy="281.5" r="2.15" fill="#143a7c"/>
<circle cx="1463.9" cy="279.5" r="2.15" fill="#143a7c"/>
<circle cx="1475.7" cy="282.8" r="2.15" fill="#143a7c"/>
<circle cx="1491.0" cy="281.8" r="2.15" fill="#143a7c"/>
<circle cx="1415.9" cy="284.8" r="2.15" fill="#143a7c"/>
<circle cx="1421.4" cy="286.5" r="2.15" fill="#143a7c"/>
<circle cx="1466.4" cy="289.3" r="2.15" fill="#143a7c"/>
<circle cx="1492.8" cy="291.1" r="2.15" fill="#143a7c"/>
<circle cx="1498.0" cy="289.8" r="2.15" fill="#143a7c"/>
<circle cx="1441.3" cy="294.8" r="2.15" fill="#143a7c"/>
<circle cx="1390.3" cy="297.8" r="2.15" fill="#143a7c"/>
<circle cx="1424.2" cy="300.6" r="2.15" fill="#143a7c"/>
<circle cx="1428.7" cy="307.1" r="2.15" fill="#143a7c"/>
<circle cx="1491.3" cy="168.1" r="2.15" fill="#bd1d2c"/>
<circle cx="1490.1" cy="203.0" r="2.15" fill="#bd1d2c"/>
<circle cx="1535.3" cy="228.5" r="2.15" fill="#bd1d2c"/>
<circle cx="1505.4" cy="235.6" r="2.15" fill="#bd1d2c"/>
<circle cx="1509.4" cy="233.8" r="2.15" fill="#bd1d2c"/>
<circle cx="1495.6" cy="248.2" r="2.15" fill="#bd1d2c"/>
<circle cx="1515.9" cy="246.7" r="2.15" fill="#bd1d2c"/>
<circle cx="1527.2" cy="246.4" r="2.15" fill="#bd1d2c"/>
<circle cx="1518.4" cy="250.1" r="2.15" fill="#bd1d2c"/>
<circle cx="1490.2" cy="256.0" r="2.15" fill="#bd1d2c"/>
<circle cx="1497.7" cy="257.7" r="2.15" fill="#bd1d2c"/>
<circle cx="1506.6" cy="267.7" r="2.15" fill="#bd1d2c"/>
<circle cx="1545.3" cy="267.6" r="2.15" fill="#bd1d2c"/>
<circle cx="1544.3" cy="273.1" r="2.15" fill="#bd1d2c"/>
<circle cx="1556.6" cy="278.4" r="2.15" fill="#bd1d2c"/>
<circle cx="1520.2" cy="277.9" r="2.15" fill="#bd1d2c"/>
<circle cx="1517.0" cy="278.8" r="2.15" fill="#bd1d2c"/>
<circle cx="1504.5" cy="279.9" r="2.15" fill="#bd1d2c"/>
<circle cx="1499.6" cy="282.4" r="2.15" fill="#bd1d2c"/>
<circle cx="1492.5" cy="286.1" r="2.15" fill="#bd1d2c"/>
<circle cx="1544.8" cy="287.2" r="2.15" fill="#bd1d2c"/>
<circle cx="1520.3" cy="287.0" r="2.15" fill="#bd1d2c"/>
<circle cx="1526.5" cy="288.8" r="2.15" fill="#bd1d2c"/>
<circle cx="1511.9" cy="291.9" r="2.15" fill="#bd1d2c"/>
<circle cx="1553.4" cy="292.4" r="2.15" fill="#bd1d2c"/>
<circle cx="1524.7" cy="293.9" r="2.15" fill="#bd1d2c"/>
<circle cx="1522.2" cy="299.2" r="2.15" fill="#bd1d2c"/>
<circle cx="1554.1" cy="305.0" r="2.15" fill="#bd1d2c"/>
<circle cx="1539.8" cy="307.5" r="2.15" fill="#bd1d2c"/>
<circle cx="1530.7" cy="309.7" r="2.15" fill="#bd1d2c"/>
<circle cx="1549.1" cy="308.5" r="2.15" fill="#bd1d2c"/>
<circle cx="1547.8" cy="310.8" r="2.15" fill="#bd1d2c"/>
<circle cx="1536.8" cy="312.8" r="2.15" fill="#bd1d2c"/>
<circle cx="1553.9" cy="323.3" r="2.15" fill="#bd1d2c"/>
<circle cx="1553.1" cy="330.4" r="2.15" fill="#bd1d2c"/>
</svg>
</body></html>
